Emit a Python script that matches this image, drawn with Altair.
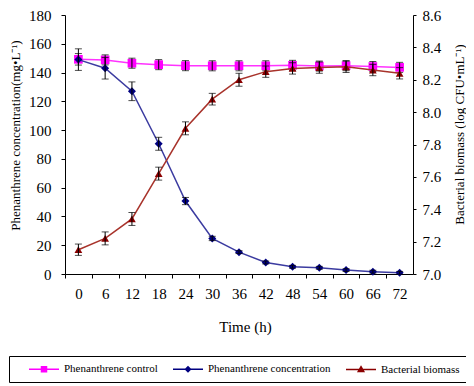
import altair as alt
import pandas as pd

time_h = [0, 6, 12, 18, 24, 30, 36, 42, 48, 54, 60, 66, 72]
control = [149.2, 148.8, 146.5, 145.5, 144.8, 144.7, 144.7, 144.7, 145.0, 144.5, 144.8, 144.2, 143.6]
control_err = [4.0, 3.5, 3.5, 3.5, 3.5, 3.5, 3.5, 3.5, 3.5, 3.5, 3.5, 3.5, 3.5]
conc = [149.0, 143.0, 127.0, 90.5, 50.7, 24.7, 15.2, 8.0, 5.0, 4.3, 2.7, 1.6, 0.8]
conc_err = [7.5, 7.5, 6.5, 4.5, 2.5, 1.5, 1.0, 1.0, 1.0, 1.0, 1.0, 1.0, 1.0]
biomass = [7.15, 7.22, 7.34, 7.62, 7.90, 8.08, 8.20, 8.25, 8.27, 8.275, 8.28, 8.26, 8.24]
biomass_err = [0.035, 0.04, 0.04, 0.04, 0.04, 0.036, 0.04, 0.035, 0.035, 0.035, 0.035, 0.035, 0.035]

series_names = ["Phenanthrene control", "Phenanthrene concentration", "Bacterial biomass"]
series_colors = ["#FF00FF", "#000080", "#8B0000"]
line_colors = ["#FF33FF", "#3B3BA0", "#A8332B"]
legend_paths = [
    "M-3,0H3M-0.5,-0.5H0.5V0.5H-0.5Z",
    "M-3,0H3M0,-0.5L0.5,0L0,0.5L-0.5,0Z",
    "M-3,0H3M0,-0.55L0.55,0.4H-0.55Z",
]
x_ticks = [0, 6, 12, 18, 24, 30, 36, 42, 48, 54, 60, 66, 72]
left_ticks = [0, 20, 40, 60, 80, 100, 120, 140, 160, 180]
right_ticks = [7.0, 7.2, 7.4, 7.6, 7.8, 8.0, 8.2, 8.4, 8.6]

FONT = "Liberation Serif"
W, H = 348, 259
half_step_px = W / 78 * 3

df_ctrl = pd.DataFrame({"t": time_h, "v": control, "e": control_err})
df_conc = pd.DataFrame({"t": time_h, "v": conc, "e": conc_err})
df_bio = pd.DataFrame({"t": time_h, "v": biomass, "e": biomass_err})
df_leg = pd.DataFrame({"series": series_names})

x_scale = alt.Scale(domain=[-3, 75], nice=False, zero=False)
x_axis = alt.Axis(
    values=x_ticks, title="Time (h)", grid=False, tickSize=4,
    tickOffset=-half_step_px, labelOffset=half_step_px,
    labelFlush=False, labelOverlap=False, labelPadding=8,
    labelFont=FONT, labelFontSize=15, labelColor="black",
    titleFont=FONT, titleFontSize=15, titleFontWeight="normal", titleColor="black",
    titleX=180, titleY=52, titleBaseline="middle", titleAlign="center",
    domainColor="black", tickColor="black",
)

left_axis = alt.Axis(
    values=left_ticks, grid=False, tickSize=4, labelPadding=10, labelOverlap=False,
    title="Phenanthrene concentration(mg•L⁻¹)",
    labelFont=FONT, labelFontSize=15, labelColor="black",
    titleFont=FONT, titleFontSize=13, titleFontWeight="normal", titleColor="black",
    titleAngle=270, titleX=-50, titleY=120, titleAlign="center", titleBaseline="middle",
    domainColor="black", tickColor="black", orient="left",
)
right_axis = alt.Axis(
    values=right_ticks, format=".1f", grid=False, tickSize=3, labelPadding=6, labelOverlap=False,
    title="Bacterial biomass (log CFU•mL⁻¹)",
    labelFont=FONT, labelFontSize=15, labelColor="black",
    titleFont=FONT, titleFontSize=13, titleFontWeight="normal", titleColor="black",
    titleAngle=270, titleX=46, titleY=119, titleAlign="center", titleBaseline="middle",
    domainColor="black", tickColor="black", orient="right",
)

left_scale = alt.Scale(domain=[0, 180], nice=False, zero=False)
right_scale = alt.Scale(domain=[7.0, 8.6], nice=False, zero=False)


def series_layers(df, color, lcolor, shape, size, yaxis, yscale):
    base = alt.Chart(df)
    xe = alt.X("t:Q", scale=x_scale, axis=x_axis)
    ye = alt.Y("v:Q", scale=yscale, axis=yaxis)
    ylo = alt.Y("lo:Q", scale=yscale, axis=yaxis)
    yhi = alt.Y("hi:Q", scale=yscale, axis=yaxis)
    line = base.mark_line(color=lcolor, strokeWidth=1.5).encode(x=xe, y=ye)
    pts = base.mark_point(shape=shape, filled=True, size=size, color=color, opacity=1).encode(x=xe, y=ye)
    err = base.transform_calculate(lo="datum.v - datum.e", hi="datum.v + datum.e")
    rule = err.mark_rule(color="black", strokeWidth=1).encode(x=xe, y=ylo, y2="hi:Q")
    cap_lo = err.mark_tick(color="black", orient="horizontal", size=7, thickness=1).encode(x=xe, y=ylo)
    cap_hi = err.mark_tick(color="black", orient="horizontal", size=7, thickness=1).encode(x=xe, y=yhi)
    return [line, pts, rule, cap_lo, cap_hi]


left = alt.layer(
    *series_layers(df_ctrl, series_colors[0], line_colors[0], "square", 75, left_axis, left_scale),
    *series_layers(df_conc, series_colors[1], line_colors[1], "diamond", 64, left_axis, left_scale),
)
right = alt.layer(
    *series_layers(df_bio, series_colors[2], line_colors[2], "triangle-up", 60, right_axis, right_scale),
)

leg = alt.Legend(
    title=None, orient="none", legendX=-56, legendY=341, direction="horizontal",
)
legend_layer = alt.Chart(df_leg).mark_point(filled=True, opacity=0).encode(
    fill=alt.Fill("series:N", scale=alt.Scale(domain=series_names, range=series_colors), legend=leg),
    stroke=alt.Stroke("series:N", scale=alt.Scale(domain=series_names, range=series_colors), legend=leg),
    shape=alt.Shape("series:N", scale=alt.Scale(domain=series_names, range=legend_paths), legend=leg),
)

chart = alt.layer(left, right, legend_layer).resolve_scale(y="independent").properties(
    width=W, height=H,
    autosize=alt.AutoSizeParams(type="none"),
    padding={"left": 57, "top": 7, "right": 53, "bottom": 110},
).configure_view(stroke=None).configure_legend(
    strokeColor="black", padding=7, symbolOffset=22, columnPadding=2, labelOffset=14,
    symbolSize=100, symbolStrokeWidth=1.5, symbolOpacity=1,
    labelFont=FONT, labelFontSize=11, labelColor="black", cornerRadius=0,
    labelLimit=300,
)

chart.save("out.html", embed_options={"renderer": "svg", "actions": False})
